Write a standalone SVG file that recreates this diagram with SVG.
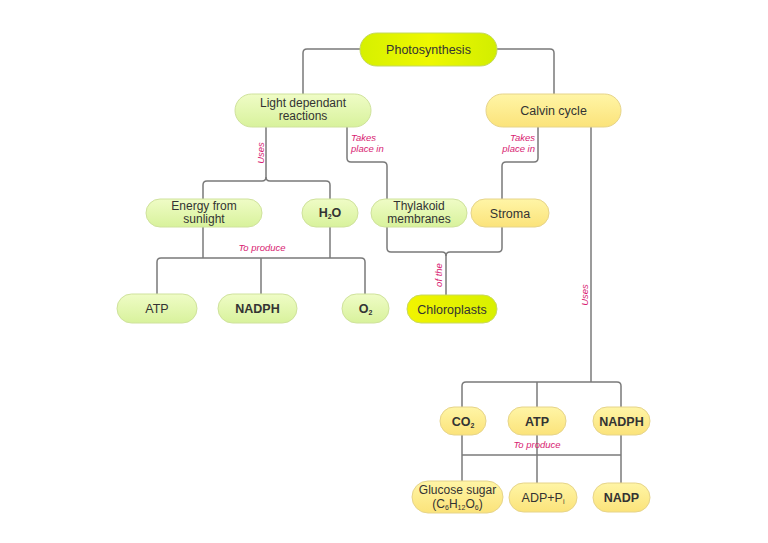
<svg xmlns="http://www.w3.org/2000/svg" width="768" height="543" viewBox="0 0 768 543">
<defs>
<linearGradient id="gGreen" x1="0" y1="0" x2="0" y2="1"><stop offset="0" stop-color="#effcc6"/><stop offset="1" stop-color="#d8f29c"/></linearGradient>
<linearGradient id="gYellow" x1="0" y1="0" x2="0" y2="1"><stop offset="0" stop-color="#fff5a6"/><stop offset="1" stop-color="#fbe37a"/></linearGradient>
<linearGradient id="gLime" x1="0" y1="0" x2="1" y2="0"><stop offset="0" stop-color="#d6f000"/><stop offset="0.5" stop-color="#eef800"/><stop offset="1" stop-color="#d2ee00"/></linearGradient>
<linearGradient id="gChloro" x1="0" y1="0" x2="1" y2="0"><stop offset="0" stop-color="#f2f400"/><stop offset="1" stop-color="#d8f000"/></linearGradient>
</defs>
<style>
.green{fill:url(#gGreen);stroke:#cfe29c;stroke-width:1}
.yellow{fill:url(#gYellow);stroke:#e6d48a;stroke-width:1}
.lime{fill:url(#gLime);stroke:#c4d860;stroke-width:1}
.chl{fill:url(#gChloro);stroke:#c8d860;stroke-width:1}
text{font-family:"Liberation Sans","Open Sans",sans-serif;fill:#333;text-anchor:middle}
.t{font-size:12.5px}
.t2{font-size:12px}
.b{font-size:12.5px;font-weight:bold}
.lab{font-size:9.5px;font-style:italic;fill:#d81b72}
.st{text-anchor:start}
.en{text-anchor:end}
#connectors path{fill:none;stroke:#7a7a7a;stroke-width:1.5}
</style>
<g id="connectors">
<path d="M360,49 H307 Q303,49 303,53 V94"/>
<path d="M497,49 H550 Q554,49 554,53 V94"/>
<path d="M266,127 V177 Q266,181 262,181 H207 Q203,181 203,185 V199"/>
<path d="M266,177 Q266,181 270,181 H326 Q330,181 330,185 V199"/>
<path d="M347,127 V158 Q347,162 351,162 H383 Q387,162 387,166 V199"/>
<path d="M538,127 V158 Q538,162 534,162 H506 Q502,162 502,166 V199"/>
<path d="M203,227 V258"/>
<path d="M330,227 V258"/>
<path d="M157,294 V262 Q157,258 161,258 H361 Q365,258 365,262 V294"/>
<path d="M261,258 V294"/>
<path d="M387,227 V248 Q387,252 391,252 H442 Q446,252 446,256 V295"/>
<path d="M502,227 V248 Q502,252 498,252 H450 Q446,252 446,256"/>
<path d="M591,127 V382"/>
<path d="M462,407 V386 Q462,382 466,382 H617 Q621,382 621,386 V407"/>
<path d="M537,382 V407"/>
<path d="M462,435 V481"/>
<path d="M537,435 V483"/>
<path d="M621,435 V483"/>
<path d="M462,455 H621"/>
</g>
<g id="labels">
<text class="lab" transform="translate(264,153) rotate(-90)">Uses</text>
<text class="lab st" x="351" y="141">Takes</text>
<text class="lab st" x="351" y="152">place in</text>
<text class="lab en" x="535" y="141">Takes</text>
<text class="lab en" x="535" y="152">place in</text>
<text class="lab" x="262" y="251">To produce</text>
<text class="lab" transform="translate(442,275) rotate(-90)">of the</text>
<text class="lab" transform="translate(588,295) rotate(-90)">Uses</text>
<text class="lab" x="537" y="448">To produce</text>
</g>
<g id="photosynthesis"><rect class="lime" x="360" y="33" width="137" height="33" rx="16.5"/><text class="t" x="428.5" y="54">Photosynthesis</text></g>
<g id="light"><rect class="green" x="235" y="94" width="136" height="33" rx="16.5"/><text class="t2" x="303" y="107">Light dependant</text><text class="t2" x="303" y="120">reactions</text></g>
<g id="calvin"><rect class="yellow" x="486" y="94" width="135" height="33" rx="16.5"/><text class="t" x="553.5" y="115">Calvin cycle</text></g>
<g id="energy"><rect class="green" x="146" y="199" width="116" height="28" rx="14"/><text class="t2" x="204" y="209.5">Energy from</text><text class="t2" x="204" y="222.5">sunlight</text></g>
<g id="h2o"><rect class="green" x="302" y="199" width="56" height="28" rx="14"/><text class="b" x="330" y="217">H<tspan font-size="7" dy="2">2</tspan><tspan dy="-2">O</tspan></text></g>
<g id="thylakoid"><rect class="green" x="371" y="199" width="96" height="28" rx="14"/><text class="t2" x="419" y="209.5">Thylakoid</text><text class="t2" x="419" y="222.5">membranes</text></g>
<g id="stroma"><rect class="yellow" x="471" y="199" width="78" height="28" rx="14"/><text class="t" x="510" y="217.5">Stroma</text></g>
<g id="atp1"><rect class="green" x="117" y="294" width="80" height="29" rx="14.5"/><text class="t" x="157" y="313">ATP</text></g>
<g id="nadph1"><rect class="green" x="218" y="294" width="79" height="29" rx="14.5"/><text class="b" x="257.5" y="313">NADPH</text></g>
<g id="o2"><rect class="green" x="342" y="294" width="47" height="29" rx="14.5"/><text class="b" x="365.5" y="313">O<tspan font-size="7" dy="2">2</tspan></text></g>
<g id="chloroplasts"><rect class="chl" x="407" y="295" width="90" height="28" rx="14"/><text class="t" x="452" y="313.5">Chloroplasts</text></g>
<g id="co2"><rect class="yellow" x="440" y="407" width="46" height="28" rx="14"/><text class="b" x="463" y="425.5">CO<tspan font-size="7" dy="2">2</tspan></text></g>
<g id="atp2"><rect class="yellow" x="508" y="407" width="58" height="28" rx="14"/><text class="b" x="537" y="425.5">ATP</text></g>
<g id="nadph2"><rect class="yellow" x="593" y="407" width="57" height="28" rx="14"/><text class="b" x="621.5" y="425.5">NADPH</text></g>
<g id="glucose"><rect class="yellow" x="412" y="481" width="91" height="32" rx="16"/><text class="t2" x="457.5" y="494">Glucose sugar</text><text class="t2" x="457.5" y="507.5">(C<tspan font-size="7" dy="2">6</tspan><tspan dy="-2">H</tspan><tspan font-size="7" dy="2">12</tspan><tspan dy="-2">O</tspan><tspan font-size="7" dy="2">6</tspan><tspan dy="-2">)</tspan></text></g>
<g id="adp"><rect class="yellow" x="509" y="483" width="68" height="29" rx="14.5"/><text class="t" x="543" y="502">ADP+P<tspan font-size="7" dy="2">i</tspan></text></g>
<g id="nadp"><rect class="yellow" x="593" y="483" width="57" height="29" rx="14.5"/><text class="b" x="621.5" y="502">NADP</text></g>
</svg>
